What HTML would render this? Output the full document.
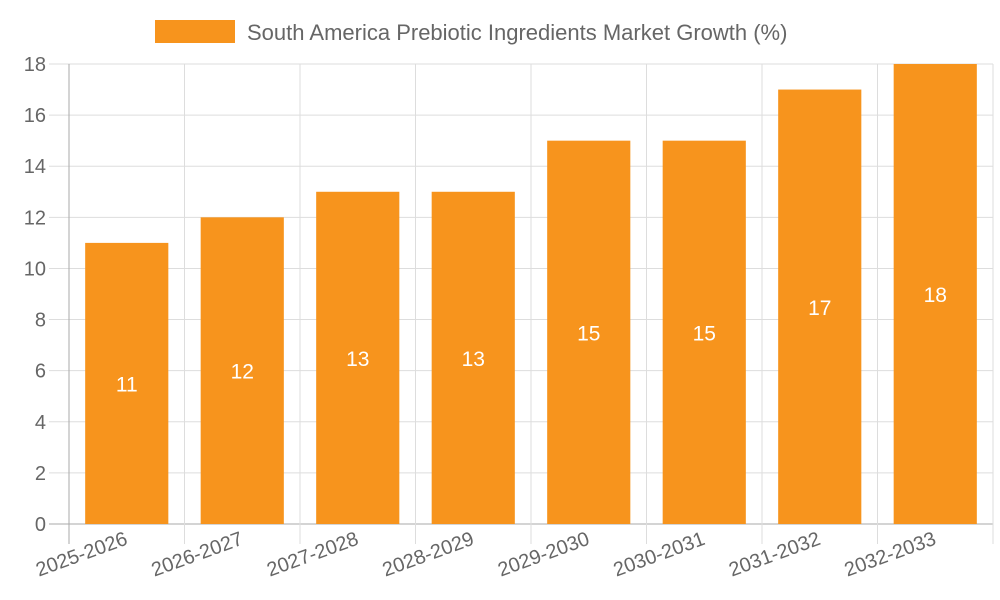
<!DOCTYPE html>
<html><head><meta charset="utf-8"><style>body{margin:0;background:#fff}svg{display:block;font-family:"Liberation Sans",sans-serif}</style></head>
<body>
<svg id="c" width="1000" height="600">
<rect x="155" y="20" width="80" height="23" fill="#f7941d"/>
<text x="247" y="40" font-size="22" fill="#666">South America Prebiotic Ingredients Market Growth (%)</text>
<g id="g"></g>
</svg>
<script>
const categories=["2025-2026","2026-2027","2027-2028","2028-2029","2029-2030","2030-2031","2031-2032","2032-2033"];
const values=[11,12,13,13,15,15,17,18];
const yTicks=[0,2,4,6,8,10,12,14,16,18];
const L=69,R=993,T=64,B=524,yMax=18;
const bw=(R-L)/categories.length;
const y=v=>B-(v/yMax)*(B-T);
const x=i=>L+i*bw;
const g=document.getElementById('g');
const NS='http://www.w3.org/2000/svg';
function mk(t,a){const e=document.createElementNS(NS,t);for(const k in a)e.setAttribute(k,a[k]);g.appendChild(e);return e;}
yTicks.forEach(v=>{
 const l=mk('line',{x1:49,x2:R,y1:y(v),y2:y(v),stroke:v===0?'#aaa':'#ddd','stroke-width':1});
 
 
 const t=mk('text',{x:46,y:y(v)+7,'text-anchor':'end','font-size':20,fill:'#666'});
 t.textContent=v;
 
 
});
for(let i=0;i<=categories.length;i++){
 const l=mk('line',{x1:x(i),x2:x(i),y1:T,y2:B+20,stroke:i===0?'#aaa':'#ddd','stroke-width':1});
 
 
}
categories.forEach((c,i)=>{
 const cx=x(i)+bw/2,w=bw*0.72;
 const r=mk('rect',{x:cx-w/2,y:y(values[i]),width:w,height:B-y(values[i]),fill:'#f7941d'});
 
 
 const v=mk('text',{x:cx,y:(y(values[i])+B)/2+8,'text-anchor':'middle','font-size':21,fill:'#fff'});
 v.textContent=values[i];
 
 
 const t=mk('text',{x:cx+2,y:544,'text-anchor':'end','font-size':20,fill:'#666',transform:`rotate(-20 ${cx+2} 544)`});
 t.textContent=c;
 
 
});
</script>
</body></html>
